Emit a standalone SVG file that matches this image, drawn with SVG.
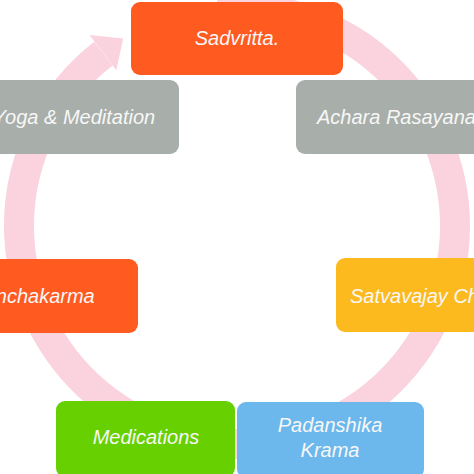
<svg xmlns="http://www.w3.org/2000/svg" width="474" height="474" viewBox="0 0 474 474">
<style>
.lbl{font-family:"Liberation Sans",Arial,sans-serif;font-style:italic;font-size:20px;fill:#F7F7F7;text-anchor:middle}
.st{text-anchor:start}
.orange{fill:#FF5A1F}
.gray{fill:#A8AEA9}
.gold{fill:#FDBA1E}
.green{fill:#66D000}
.blue{fill:#6CB8EC}
</style>
<rect width="474" height="474" fill="#FFFFFF"/>
<g id="connectors">
<path d="M218,8.8 A218,218 0 1 1 103.4,53.7" fill="none" stroke="#FAD3DE" stroke-width="30"/>
<polygon points="89.5,35 123.2,38.4 116.3,70.3" fill="#FAD3DE"/>
</g>
<g id="sadvritta">
<rect class="orange" x="131" y="2" width="212" height="73" rx="9"/>
<text class="lbl" x="237" y="45">Sadvritta.</text>
</g>
<g id="yoga">
<rect class="gray" x="-33" y="80" width="212" height="74" rx="9"/>
<text class="lbl" x="74" y="124">Yoga &amp; Meditation</text>
</g>
<g id="achara">
<rect class="gray" x="296" y="80" width="212" height="74" rx="9"/>
<text class="lbl st" x="317" y="124">Achara Rasayana</text>
</g>
<g id="panchakarma">
<rect class="orange" x="-74" y="259" width="212" height="74" rx="9"/>
<text class="lbl" x="33" y="303">Panchakarma</text>
</g>
<g id="satvavajay">
<rect class="gold" x="336" y="258" width="212" height="74" rx="9"/>
<text class="lbl st" x="350" y="303">Satvavajay Chikitsa</text>
</g>
<g id="medications">
<rect class="green" x="56" y="401" width="179" height="76" rx="9"/>
<text class="lbl" x="146" y="444">Medications</text>
</g>
<g id="padanshika">
<rect class="blue" x="237" y="402" width="187" height="76" rx="9"/>
<text class="lbl" x="330" y="432">Padanshika</text>
<text class="lbl" x="330" y="457">Krama</text>
</g>
</svg>
